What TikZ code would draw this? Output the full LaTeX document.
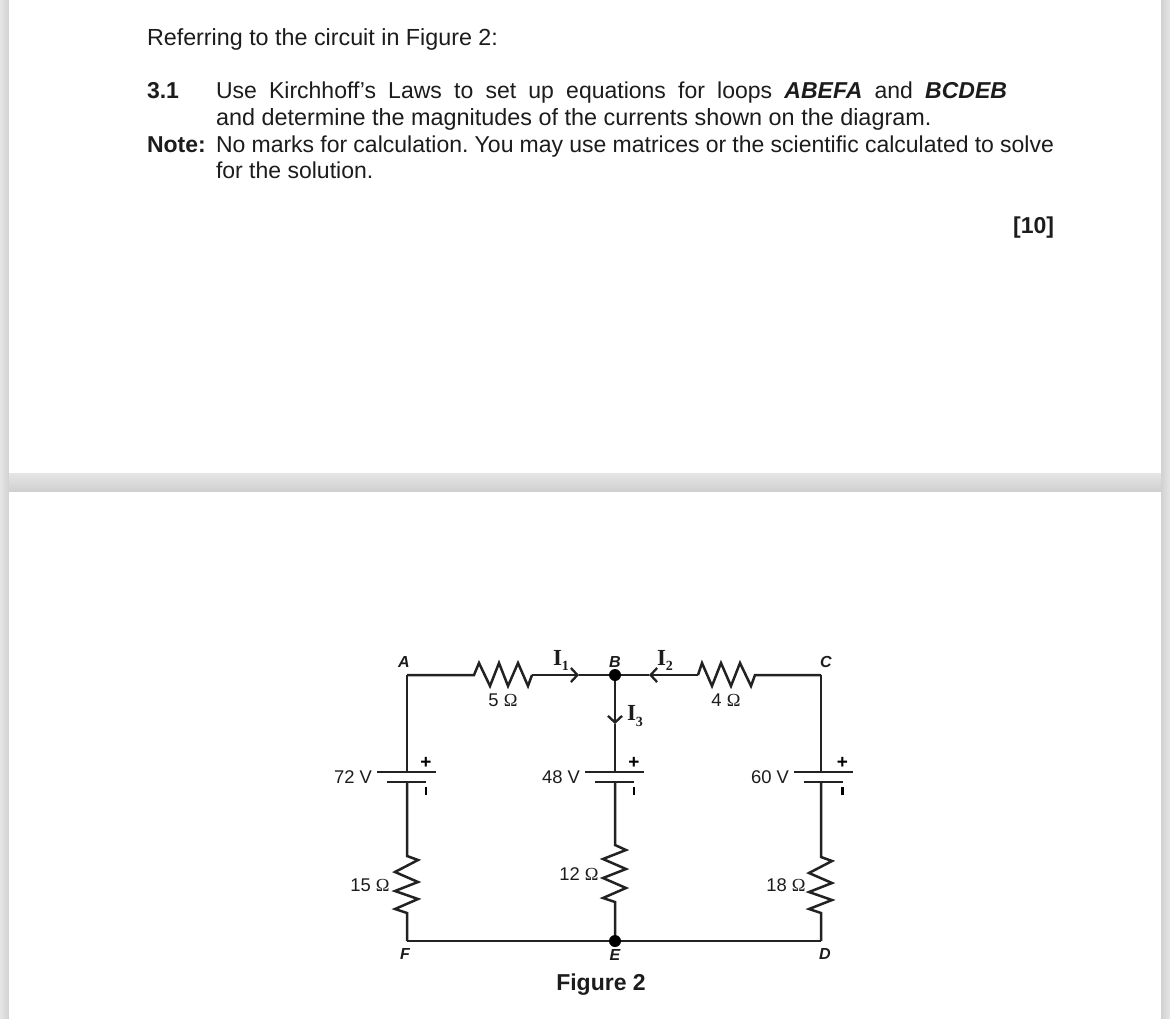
\documentclass[tikz,border=0pt]{standalone}
\usepackage{fontspec}
\setmainfont{Liberation Sans}
\newfontfamily\serifcur{Liberation Serif}
\usetikzlibrary{arrows.meta}
\definecolor{pagegray}{HTML}{DADADA}
\definecolor{inkc}{HTML}{1C1C1C}
\definecolor{wirec}{HTML}{222222}
\newcommand{\Ohm}{{\serifcur Ω}}
\newcommand{\cur}[1]{{\serifcur\bfseries I\raisebox{-0.22em}{\fontsize{14}{14}\selectfont #1}}}
\newcommand{\justline}[2]{\makebox[#1][s]{#2}}
\frenchspacing
\tikzset{
  x=1pt,y=-1pt,
  panel/.style={fill=white,draw=none},
  para/.style={anchor=base west,inner sep=0pt,outer sep=0pt,text=inkc,font=\fontsize{23}{26}\selectfont},
  parabold/.style={para,font=\fontsize{23}{26}\selectfont\bfseries},
  wire/.style={draw=wirec,line width=2.5pt,line join=miter},
  plate/.style={draw=wirec,line width=2.5pt},
  barb/.style={-{Straight Barb[length=6.5pt,width=14pt,line width=2.3pt]}},
  val/.style={inner sep=0pt,text=inkc,font=\fontsize{18.4}{20}\selectfont},
  pt/.style={inner sep=0pt,text=inkc,font=\fontsize{16}{16}\selectfont\bfseries\itshape},
  cl/.style={inner sep=0pt,text=inkc,font=\fontsize{23}{23}\selectfont},
  sgn/.style={inner sep=0pt,text=black,font=\fontsize{19}{19}\selectfont\bfseries},
  jdot/.style={circle,fill=black,inner sep=0pt,minimum size=12pt},
  capt/.style={inner sep=0pt,text=inkc,font=\fontsize{23}{26}\selectfont\bfseries},
}
\begin{document}
\begin{tikzpicture}
\useasboundingbox (0,0) rectangle (1170,1018);
\fill[pagegray] (0,0) rectangle (1170,1018);
\shade[left color=gray!20,right color=gray!36] (0,0) rectangle (9,1018);
\shade[left color=gray!36,right color=gray!20] (1161,0) rectangle (1170,1018);
\shade[top color=gray!20,bottom color=gray!38] (9,473) rectangle (1161,492);
\fill[panel] (9,0) rectangle (1161,473);
\fill[panel] (9,492) rectangle (1161,1018);
% text
\node[para,font=\fontsize{23.3}{26}\selectfont] (t0) at (147,45.5) {Referring to the circuit in Figure 2:};
\node[parabold] (t1n) at (147,98) {3.1};
\node[para] (t1) at (216,98) {\justline{791pt}{Use Kirchhoff’s Laws to set up equations for loops \textbf{\textit{ABEFA}} and \textbf{\textit{BCDEB}}}};
\node[para,font=\fontsize{23.4}{26}\selectfont] (t2) at (216,125) {and determine the magnitudes of the currents shown on the diagram.};
\node[parabold] (t3n) at (147,152) {Note:};
\node[para] (t3) at (216,152) {\justline{838pt}{No marks for calculation. You may use matrices or the scientific calculated to solve}};
\node[para] (t4) at (216,178) {for the solution.};
\node[parabold,anchor=base east] (t5) at (1054,233) {[10]};
% junctions and corners
\coordinate (A) at (407,675);
\node[jdot] (B) at (615,675) {};
\coordinate (C) at (821,675);
\coordinate (F) at (407,941);
\node[jdot] (E) at (615,941) {};
\coordinate (D) at (821,941);
% top resistors
\coordinate (R1a) at (474,675); \coordinate (R1b) at (532,675);
\coordinate (R2a) at (698,675); \coordinate (R2b) at (755,675);
\coordinate (I1tip) at (579,675); \coordinate (I2tip) at (649,675); \coordinate (I3tip) at (615,724);
\draw[wire] (A) -- (R1a) -- (479,663) -- (490,686) -- (499,663) -- (508,686) -- (518,663) -- (528,686) -- (R1b);
\draw[wire,barb] (R1b) -- (I1tip);
\draw[wire] (I1tip) -- (B);
\draw[wire,barb] (R2a) -- (I2tip);
\draw[wire] (I2tip) -- (B);
\draw[wire] (R2a) -- (702,663) -- (712,686) -- (721,663) -- (731,686) -- (740,663) -- (751,686) -- (R2b) -- (C);
\draw[wire,barb] (B) -- (I3tip);
% batteries
\foreach \nm/\x/\ra/\rb/\off in {L/407/856/913/0, M/615/845/902/0, R/821/857/913/2.5}{
  \coordinate (\nm p) at (\x,772);
  \coordinate (\nm n) at (\x,782);
  \coordinate (\nm ra) at (\x,\ra);
  \coordinate (\nm rb) at (\x,\rb);
  \draw[plate] (\x-30+\off,772) -- (\x+29+\off,772);
  \draw[plate] (\x-20+\off,782) -- (\x+19+\off,782);
  \node[sgn] (\nm plus) at (\x+19+\off,763) {+};
  \draw[draw=black,line width=2.8pt] (\x+19+\off,787) -- (\x+19+\off,795);
}
\draw[wire] (A) -- (Lp);
\draw[wire] (I3tip) -- (Mp);
\draw[wire] (C) -- (Rp);
\draw[wire] (Ln) -- (Lra) -- (418,860) -- (395,872) -- (418,882) -- (395,891) -- (418,899) -- (395,909) -- (Lrb) -- (F);
\draw[wire] (Mn) -- (Mra) -- (626,850) -- (603,859) -- (626,869) -- (603,878) -- (626,888) -- (603,898) -- (Mrb) -- (E);
\draw[wire] (Rn) -- (Rra) -- (832,861) -- (809,873) -- (832,883) -- (809,892) -- (832,900) -- (809,909) -- (Rrb) -- (D);
\draw[wire] (F) -- (E) -- (D);
% labels
\node[pt] (lA) at (404,662) {A};
\node[pt] (lB) at (615,662) {B};
\node[pt] (lC) at (826,662) {C};
\node[pt] (lF) at (405,954) {F};
\node[pt] (lE) at (615,955) {E};
\node[pt] (lD) at (825,954) {D};
\node[cl] (i1) at (561,660) {\cur{1}};
\node[cl] (i2) at (665,660) {\cur{2}};
\node[cl] (i3) at (635,716) {\cur{3}};
\node[val] (v5) at (503,700) {5 \Ohm};
\node[val] (v4) at (726,700) {4 \Ohm};
\node[val] (v72) at (353,777) {72 V};
\node[val] (v48) at (561,777) {48 V};
\node[val] (v60) at (770,777) {60 V};
\node[val] (v15) at (370,885) {15 \Ohm};
\node[val] (v12) at (579,874) {12 \Ohm};
\node[val] (v18) at (786,885) {18 \Ohm};
\node[capt] (cap) at (601,985) {Figure 2};
\end{tikzpicture}
\end{document}
